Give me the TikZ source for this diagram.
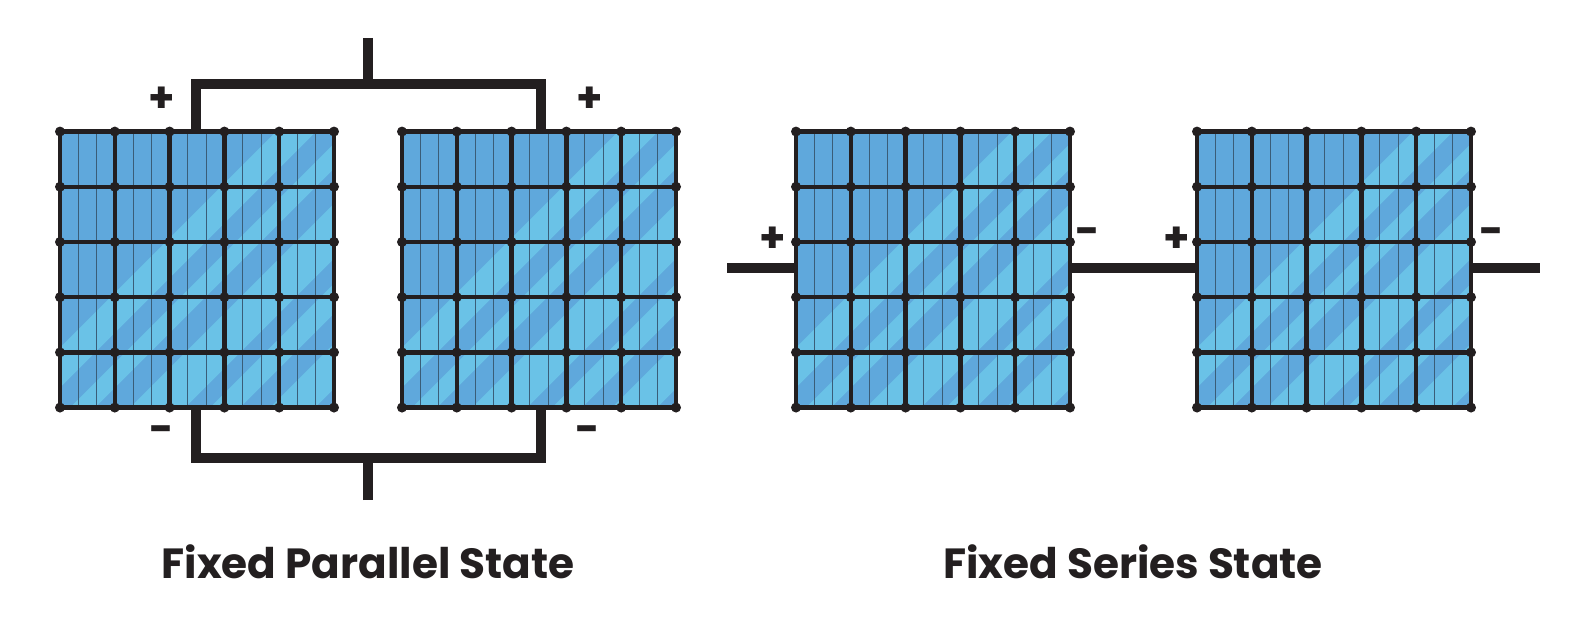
\documentclass[tikz,border=0pt]{standalone}
\usepackage{fontspec}
\setmainfont{Poppins}
\tikzset{
  panel/.style={draw=none, minimum width=274*0.025cm, minimum height=276*0.025cm, inner sep=0pt},
  wire/.style={line width=10*0.025cm, color=wirecol},
  sign/.style={font=\bfseries\fontsize{30}{30}\selectfont, text=wirecol, inner sep=0pt},
  title/.style={font=\bfseries\fontsize{30}{30}\selectfont, text=wirecol, inner sep=0pt}
}
\definecolor{wirecol}{HTML}{231F20}
\definecolor{celldark}{HTML}{5FA8DC}
\definecolor{celllight}{HTML}{6AC2E7}
\definecolor{stripcol}{HTML}{3A5D78}
% one panel: name, left x, top y (pixel units)
\newcommand{\solarpanel}[3]{%
  \node[panel, anchor=north west] (#1) at (#2,#3) {};
  \begin{scope}
    \clip (#1.south west) rectangle (#1.north east);
    \fill[celldark] (#1.south west) rectangle (#1.north east);
    \foreach \o/\w in {-60/40, 10/25, 70/55, 150/30, 210/45, 290/20, 340/50, 420/35} {
      \fill[celllight] ([xshift=\o*0.025cm]#1.south west) -- ++(\w*0.025cm,0) -- ++(300*0.025cm,300*0.025cm) -- ++(-\w*0.025cm,0) -- cycle;
    }
  \end{scope}
  \foreach \c in {0,...,4} {
    \foreach \s in {1,2} {
      \draw[stripcol, line width=0.6pt] ([xshift={(\c*54.8+\s*18.3)*0.025cm}]#1.south west) -- ([xshift={(\c*54.8+\s*18.3)*0.025cm}]#1.north west);
    }
  }
  \foreach \i in {0,...,5} {
    \draw[wirecol, line width=4.5*0.025cm] ([xshift=\i*54.8*0.025cm]#1.south west) -- ([xshift=\i*54.8*0.025cm]#1.north west);
    \draw[wirecol, line width=4.5*0.025cm] ([yshift=\i*55.2*0.025cm]#1.south west) -- ([yshift=\i*55.2*0.025cm]#1.south east);
  }
  \foreach \i in {0,...,5} {
    \foreach \j in {0,...,5} {
      \fill[wirecol] ([xshift=\i*54.8*0.025cm, yshift=\j*55.2*0.025cm]#1.south west) circle (5*0.025cm);
    }
  }
}
\begin{document}
\begin{tikzpicture}[x=0.025cm, y=0.025cm]
\useasboundingbox (0,0) rectangle (1596,626);
\begin{scope}[overlay]
% parallel state
\solarpanel{pa}{60}{495}
\solarpanel{pb}{402}{495}
\coordinate (topl) at (196,542);
\coordinate (topr) at (541,542);
\coordinate (topstem) at (368,588);
\coordinate (botl) at (196,168);
\coordinate (botr) at (541,168);
\coordinate (botstem) at (368,126);
\draw[wire] (topl |- pa.north) -- (topl) -- (topr) -- (topr |- pb.north);
\draw[wire] (topstem) -- (topstem |- topl);
\draw[wire] (botl |- pa.south) -- (botl) -- (botr) -- (botr |- pb.south);
\draw[wire] (botstem) -- (botstem |- botl);
\node[sign] (pap) at (162,526) {+};
\node[sign] (pbp) at (590,526) {+};
\node[sign] (pam) at (162,191) {-};
\node[sign] (pbm) at (588,191) {-};
\node[title] (ptitle) at (368,64) {Fixed Parallel State};

% series state
\solarpanel{sa}{796}{495}
\solarpanel{sb}{1197}{495}
\coordinate (sin) at (727,358);
\coordinate (sout) at (1540,358);
\draw[wire] (sin) -- (sin -| sa.west);
\draw[wire] (sin -| sa.east) -- (sin -| sb.west);
\draw[wire] (sin -| sb.east) -- (sout);
\node[sign] (sap) at (773,386) {+};
\node[sign] (sam) at (1088,389) {-};
\node[sign] (sbp) at (1177,386) {+};
\node[sign] (sbm) at (1492,389) {-};
\node[title] (stitle) at (1133,64) {Fixed Series State};
\end{scope}
\end{tikzpicture}
\end{document}
